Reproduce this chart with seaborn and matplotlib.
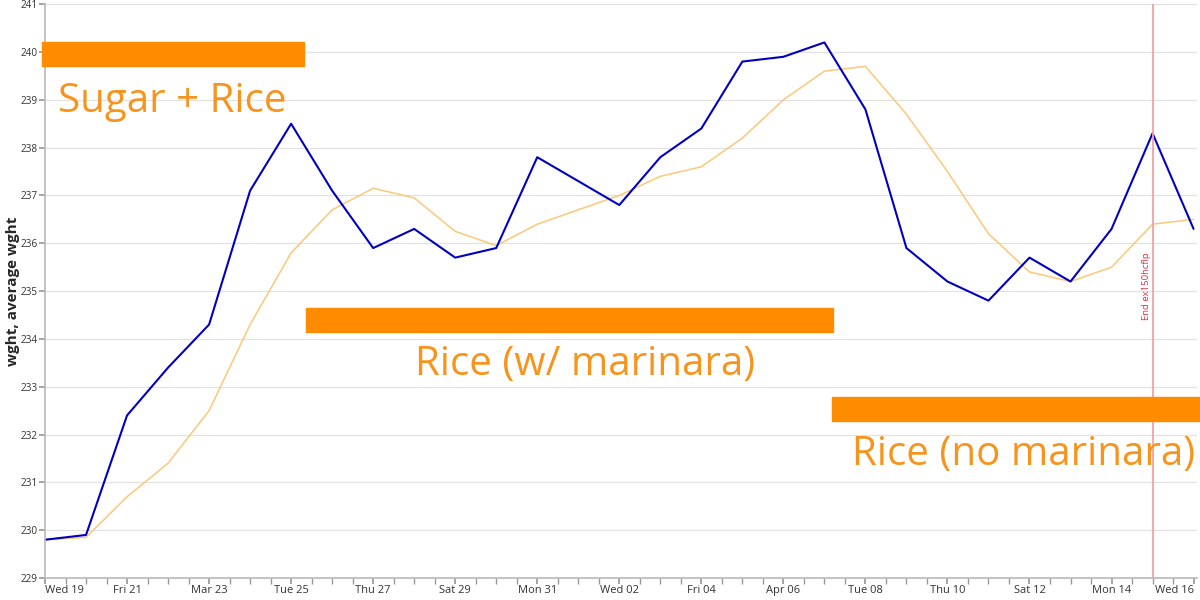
import pandas as pd
import seaborn as sns
import matplotlib.pyplot as plt
import matplotlib.dates as mdates
from matplotlib.patches import Rectangle
from matplotlib.ticker import FuncFormatter, MultipleLocator

# daily readings, Mar 19 - Apr 16
dates = pd.date_range("2025-03-19", "2025-04-16", freq="D")
wght = [229.8, 229.9, 232.4, 233.4, 234.3, 237.1, 238.5, 237.1, 235.9, 236.3,
        235.7, 235.9, 237.8, 237.3, 236.8, 237.8, 238.4, 239.8, 239.9, 240.2,
        238.8, 235.9, 235.2, 234.8, 235.7, 235.2, 236.3, 238.3, 236.3]
avg_wght = [229.8, 229.85, 230.7, 231.4, 232.5, 234.3, 235.8, 236.7, 237.15, 236.95,
            236.25, 235.95, 236.4, 236.7, 237.0, 237.4, 237.6, 238.2, 239.0, 239.6,
            239.7, 238.7, 237.5, 236.2, 235.4, 235.2, 235.5, 236.4, 236.5]
end_date = pd.Timestamp("2025-04-15")
end_label = "End ex150hcflp"

phases = ["Sugar + Rice", "Rice (w/ marinara)", "Rice (no marinara)"]

df = pd.DataFrame({"date": dates, "wght": wght, "avg": avg_wght})

sns.set_theme(style="white")
plt.rcParams["font.family"] = ["Open Sans", "DejaVu Sans"]

fig = plt.figure(figsize=(12, 6), dpi=100)
ax = fig.add_axes([0.0375, 0.0367, 0.96, 0.9563])

sns.lineplot(data=df, x="date", y="avg", color="#fcc878", linewidth=1.1, ax=ax)
sns.lineplot(data=df, x="date", y="wght", color="#0000c0", linewidth=1.5, ax=ax)

ax.axvline(end_date, color="#f4a0a0", linewidth=1.3)
ax.text(end_date - pd.Timedelta(hours=1), 235.8, end_label, rotation=90,
        color="#e03040", fontsize=6.8, ha="right", va="top")

ax.set_ylim(229, 241)
ax.set_xlim(pd.Timestamp("2025-03-19"), pd.Timestamp("2025-04-16 02:00"))
ax.yaxis.set_major_locator(MultipleLocator(1))
ax.grid(axis="y", color="#e2e2e2", linewidth=0.9)
ax.grid(axis="x", visible=False)

ax.set_xticks(pd.date_range("2025-03-19", "2025-04-16", freq="2D"))
ax.xaxis.set_minor_locator(mdates.HourLocator(byhour=[0, 12]))


def fmt(x, pos):
    d = mdates.num2date(x)
    return d.strftime("%b %d") if d.weekday() == 6 else d.strftime("%a %d")


ax.xaxis.set_major_formatter(FuncFormatter(fmt))
ax.tick_params(axis="x", which="both", direction="out", length=4, color="#999999",
               labelsize=8, labelcolor="#333333", bottom=True, pad=1)
ax.tick_params(axis="y", direction="out", length=4, color="#999999", labelsize=7.2,
               labelcolor="#333333", left=True, pad=1)
xlabels = ax.get_xticklabels()
xlabels[0].set_ha("left")
xlabels[-1].set_ha("right")
ax.set_xlabel("")
ax.set_ylabel("wght, average wght", fontsize=11, fontweight="bold")
ax.yaxis.set_label_coords(-0.022, 0.5)

for s in ["top", "right"]:
    ax.spines[s].set_visible(False)
for s in ["left", "bottom"]:
    ax.spines[s].set_color("#bbbbbb")

# phase annotations (figure pixel coords)
W, H = 1200, 600
orange = "#ff8c00"
blocks = [(42, 42, 304, 66), (306, 308, 833, 332), (832, 397, 1200, 421)]
for x0, y0, x1, y1 in blocks:
    fig.patches.append(Rectangle((x0 / W, 1 - y1 / H), (x1 - x0) / W, (y1 - y0) / H,
                                 transform=fig.transFigure, color=orange, zorder=5))
text_pos = [(58, 102), (415, 365), (852, 455)]
for (tx, ty), label in zip(text_pos, phases):
    fig.text(tx / W, 1 - ty / H, label, color="#f7941d", fontsize=29,
             ha="left", va="center")

plt.savefig("out.png", dpi=100)
